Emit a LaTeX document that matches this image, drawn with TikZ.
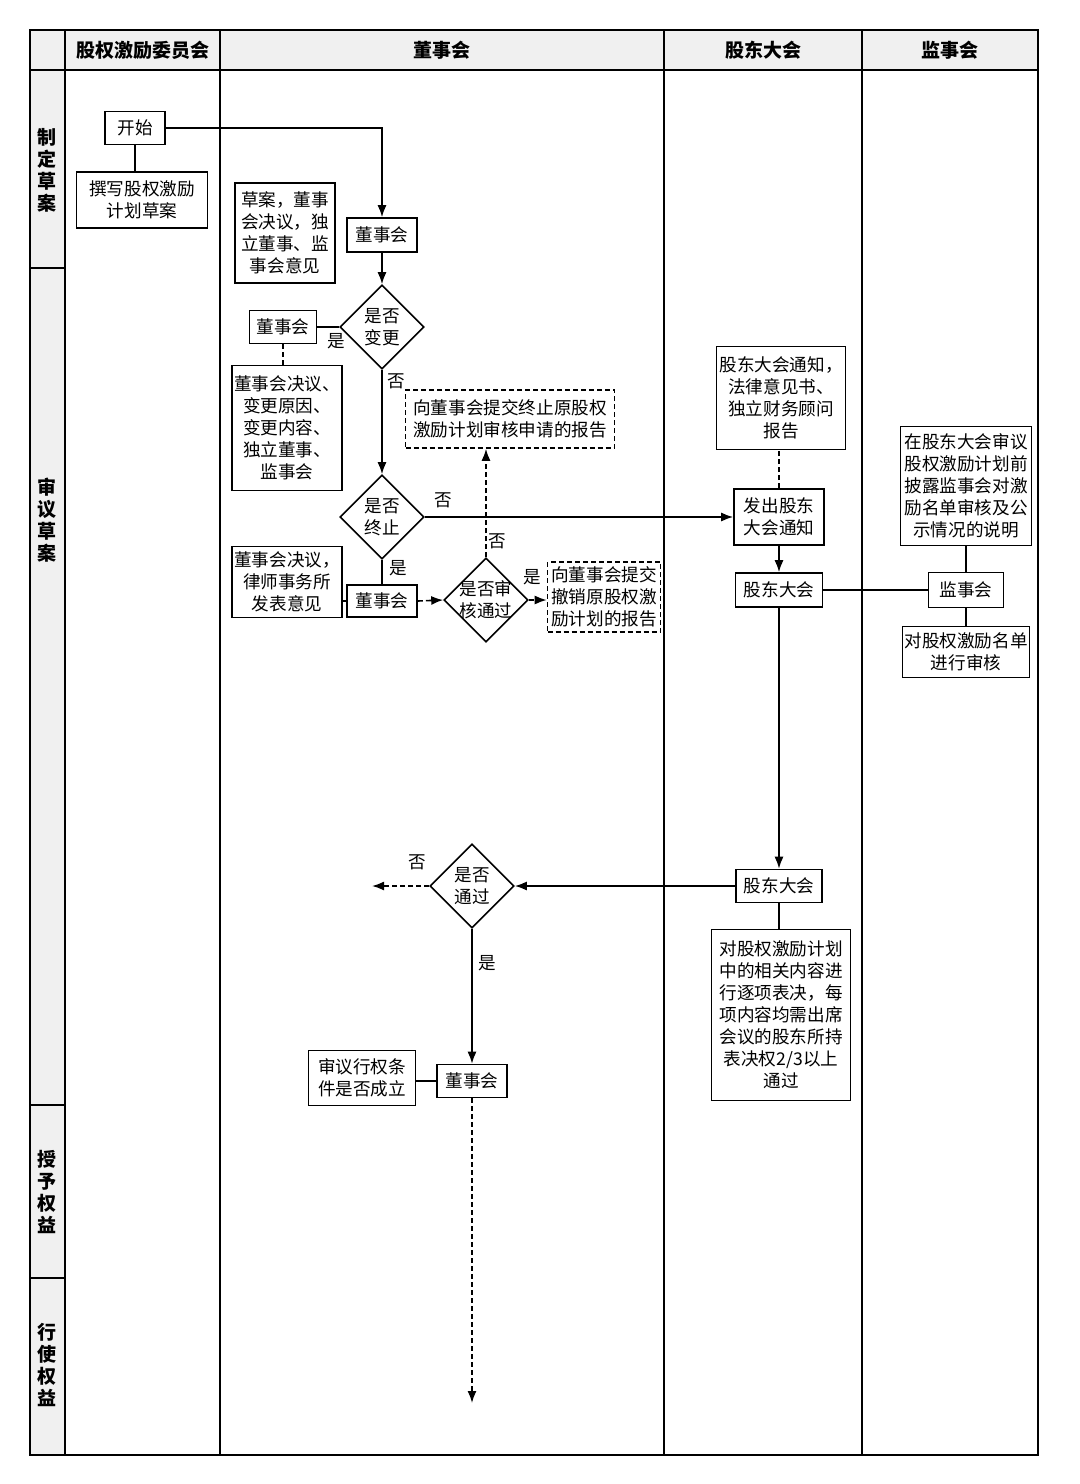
\documentclass[tikz,border=0pt]{standalone}
\usepackage{fontspec}
\setmainfont{Noto Sans CJK SC}
\usetikzlibrary{arrows.meta,shapes.geometric}

\tikzset{
  every node/.style={font=\fontsize{8.8}{11}\selectfont},
  box/.style={draw,line width=0.8pt,align=center,inner sep=1pt},
  dbox/.style={box,dash pattern=on 2.5pt off 1.5pt},
  decide/.style={draw,line width=0.8pt,diamond,aspect=1,align=center,inner sep=-3pt,minimum width=42pt,minimum height=42pt},
  flow/.style={line width=0.8pt,-{Latex[length=6pt,width=4.5pt]}},
  dflow/.style={flow,dash pattern=on 2.5pt off 1.5pt},
  link/.style={line width=0.8pt},
  dlink/.style={link,dash pattern=on 2.5pt off 1.5pt},
  lane/.style={line width=0.9pt},
  phase/.style={align=center,font=\fontsize{9.5}{11}\selectfont\bfseries},
  head/.style={font=\fontsize{9.5}{11}\selectfont\bfseries},
}

\begin{document}
\begin{tikzpicture}[x=0.5pt,y=-0.5pt]
  \useasboundingbox (0,0) rectangle (1080,1484);
  % frame and lanes
  \fill[gray!12] (30,30) rectangle (1038,70);
  \fill[gray!12] (30,70) rectangle (65,1455);
  \draw[lane] (30,30) rectangle (1038,1455);
  \draw[lane] (30,70) -- (1038,70);
  \foreach \x in {65,220,664,862} \draw[lane] (\x,30) -- (\x,1455);
  \foreach \y in {268,1105,1278} \draw[lane] (30,\y) -- (65,\y);
  \node[head] (h1) at (143,50) {股权激励委员会};
  \node[head] (h2) at (442,50) {董事会};
  \node[head] (h3) at (763,50) {股东大会};
  \node[head] (h4) at (950,50) {监事会};
  \node[phase] (p1) at (47,170) {制\\定\\草\\案};
  \node[phase] (p2) at (47,520) {审\\议\\草\\案};
  \node[phase] (p3) at (47,1192) {授\\予\\权\\益};
  \node[phase] (p4) at (47,1365) {行\\使\\权\\益};

  % 股权激励委员会
  \node[box,minimum width=30pt,minimum height=16.5pt] (start) at (135,128) {开始};
  \node[box,minimum width=65.5pt,minimum height=28pt] (draft) at (142,200) {撰写股权激励\\计划草案};

  % 董事会
  \node[box,minimum width=35pt,minimum height=17pt] (bd1) at (382,235) {董事会};
  \node[box,minimum width=50pt,minimum height=50pt] (doc1) at (285,233) {草案，董事\\会决议，独\\立董事、监\\事会意见};
  \node[decide] (chg) at (382,327) {是否\\变更};
  \node[box,minimum width=33.5pt,minimum height=16.5pt] (bd2) at (283,327) {董事会};
  \node[box,minimum width=53pt,minimum height=62.5pt] (doc2) at (287,428) {董事会决议、\\变更原因、\\变更内容、\\独立董事、\\监事会};
  \node[decide] (stop) at (382,517) {是否\\终止};
  \node[box,minimum width=35pt,minimum height=16pt] (bd3) at (382,601) {董事会};
  \node[box,minimum width=52pt,minimum height=35.5pt] (doc3) at (287,582) {董事会决议，\\律师事务所\\发表意见};
  \node[decide] (chk) at (486,600) {是否审\\核通过};
  \node[dbox,minimum width=104.5pt,minimum height=29pt] (rep1) at (510,419) {向董事会提交终止原股权\\激励计划审核申请的报告};
  \node[dbox,minimum width=56.5pt,minimum height=35pt] (rep2) at (604,597) {向董事会提交\\撤销原股权激\\励计划的报告};
  \node[decide] (pass) at (472,886) {是否\\通过};
  \node[box,minimum width=35pt,minimum height=16.5pt] (bd4) at (472,1081) {董事会};
  \node[box,minimum width=53.5pt,minimum height=27.5pt] (cond) at (362,1078) {审议行权条\\件是否成立};
  \coordinate (out) at (372,886);
  \coordinate (down) at (472,1403);

  % 股东大会
  \node[box,minimum width=64.5pt,minimum height=51.5pt] (doc4) at (781,398) {股东大会通知，\\法律意见书、\\独立财务顾问\\报告};
  \node[box,minimum width=45pt,minimum height=28pt] (note) at (779,517) {发出股东\\大会通知};
  \node[box,minimum width=43.5pt,minimum height=17pt] (gm1) at (779,590) {股东大会};
  \node[box,minimum width=43pt,minimum height=16.5pt] (gm2) at (779,886) {股东大会};
  \node[box,minimum width=69.5pt,minimum height=85.5pt] (vote) at (781,1015) {对股权激励计划\\中的相关内容进\\行逐项表决，每\\项内容均需出席\\会议的股东所持\\表决权2/3以上\\通过};

  % 监事会
  \node[box,minimum width=65.5pt,minimum height=59.5pt] (doc5) at (966,486) {在股东大会审议\\股权激励计划前\\披露监事会对激\\励名单审核及公\\示情况的说明};
  \node[box,minimum width=37.5pt,minimum height=17.5pt] (sb) at (966,590) {监事会};
  \node[box,minimum width=63.5pt,minimum height=25.5pt] (list) at (966,652) {对股权激励名单\\进行审核};

  % connectors
  \draw[link] (start.south) -- (start.south |- draft.north);
  \draw[flow] (start.east) -| (bd1.north);
  \draw[flow] (bd1) -- (chg);
  \draw[link] (chg.west) -- (bd2.east);
  \draw[dlink] (bd2) -- (bd2 |- doc2.north);
  \draw[flow] (chg) -- (stop);
  \draw[flow] (stop.east) -- (note.west);
  \draw[link] (stop) -- (bd3);
  \draw[dlink] (doc3.east |- bd3.west) -- (bd3.west);
  \draw[dflow] (bd3.east) -- (chk.west);
  \draw[dflow] (chk.north) -- (chk.north |- rep1.south);
  \draw[dflow] (chk.east) -- (chk.east -| rep2.west);
  \draw[dlink] (note.north) -- (note.north |- doc4.south);
  \draw[flow] (note) -- (gm1);
  \draw[link] (gm1) -- (sb);
  \draw[flow] (gm1) -- (gm2);
  \draw[link] (gm2.south) -- (gm2.south |- vote.north);
  \draw[flow] (gm2) -- (pass);
  \draw[dflow] (pass.west) -- (out);
  \draw[flow] (pass) -- (bd4);
  \draw[link] (cond.east |- bd4.west) -- (bd4.west);
  \draw[dflow] (bd4) -- (down);
  \draw[link] (doc5) -- (sb);
  \draw[link] (sb) -- (list);

  % branch labels
  \node (y1) at (336,341) {是};
  \node (n1) at (396,381) {否};
  \node (n2) at (443,500) {否};
  \node (y2) at (398,568) {是};
  \node (n3) at (497,541) {否};
  \node (y3) at (532,577) {是};
  \node (n4) at (417,862) {否};
  \node (y4) at (487,963) {是};
\end{tikzpicture}
\end{document}
